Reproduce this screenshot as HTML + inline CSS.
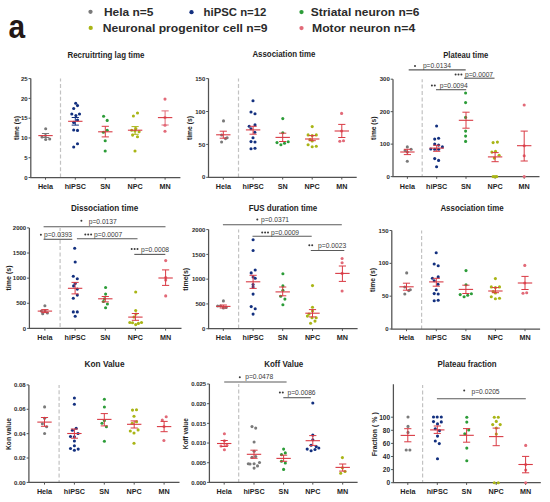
<!DOCTYPE html>
<html><head><meta charset="utf-8"><style>
html,body{margin:0;padding:0;background:#fff;}
svg{display:block;}
text{font-family:"Liberation Sans",sans-serif;}
.ti{font-size:8.2px;font-weight:bold;fill:#1e1e1e;}
.yt{font-weight:bold;fill:#2a2a2a;text-anchor:end;}
.xl{font-size:7.2px;font-weight:bold;fill:#1e1e1e;text-anchor:middle;}
.yl{font-size:6.6px;font-weight:bold;fill:#1e1e1e;text-anchor:middle;}
.pv{font-size:6.7px;fill:#3a3a3a;}
.lg{font-size:10px;font-weight:bold;fill:#2b2b2b;}
.big{font-size:33px;font-weight:bold;fill:#231815;}
.ax{fill:none;stroke:#525252;stroke-width:1.25;}
.tk{stroke:#525252;stroke-width:1;}
.da{stroke:#c2c2c2;stroke-width:1.2;stroke-dasharray:4 2.4;stroke-dashoffset:1;}
.eb{fill:none;stroke-width:1;}
.mn{stroke-width:1.1;}
.sg{stroke:#5a5a5a;stroke-width:1.1;}
</style></head><body>
<svg width="550" height="502" viewBox="0 0 550 502">
<rect width="550" height="502" fill="#fff"/>
<text x="8.4" y="37.6" class="big" textLength="16.6" lengthAdjust="spacingAndGlyphs">a</text>
<circle cx="90.5" cy="11.8" r="2.15" fill="#7a7a7a"/>
<text x="103.9" y="16.1" class="lg" textLength="49.5" lengthAdjust="spacingAndGlyphs">Hela n=5</text>
<circle cx="191.5" cy="12.2" r="2.15" fill="#13307f"/>
<text x="203.6" y="16.1" class="lg" textLength="62.8" lengthAdjust="spacingAndGlyphs">hiPSC n=12</text>
<circle cx="301.5" cy="12.1" r="2.15" fill="#2c9c38"/>
<text x="310.7" y="16.2" class="lg" textLength="108.7" lengthAdjust="spacingAndGlyphs">Striatal neuron n=6</text>
<circle cx="90.7" cy="27.9" r="2.15" fill="#a9b516"/>
<text x="102.7" y="31.8" class="lg" textLength="164.9" lengthAdjust="spacingAndGlyphs">Neuronal progenitor cell n=9</text>
<circle cx="301.5" cy="28.1" r="2.15" fill="#e26a78"/>
<text x="312" y="31.9" class="lg" textLength="103.2" lengthAdjust="spacingAndGlyphs">Motor neuron n=4</text>
<text x="67.5" y="57.9" class="ti" textLength="77" lengthAdjust="spacingAndGlyphs">Recruitrting lag time</text>
<line x1="60.5" y1="78.6" x2="60.5" y2="177.5" class="da"/>
<path d="M30.8 78.6V177.5H180.4" class="ax"/>
<line x1="28.5" y1="177.5" x2="30.8" y2="177.5" class="tk"/>
<text x="27.6" y="179.66" class="yt" style="font-size:6px">0</text>
<line x1="28.5" y1="157.72" x2="30.8" y2="157.72" class="tk"/>
<text x="27.6" y="159.88" class="yt" style="font-size:6px">5</text>
<line x1="28.5" y1="137.94" x2="30.8" y2="137.94" class="tk"/>
<text x="27.6" y="140.1" class="yt" style="font-size:6px">10</text>
<line x1="28.5" y1="118.16" x2="30.8" y2="118.16" class="tk"/>
<text x="27.6" y="120.32" class="yt" style="font-size:6px">15</text>
<line x1="28.5" y1="98.38" x2="30.8" y2="98.38" class="tk"/>
<text x="27.6" y="100.54" class="yt" style="font-size:6px">20</text>
<line x1="28.5" y1="78.6" x2="30.8" y2="78.6" class="tk"/>
<text x="27.6" y="80.76" class="yt" style="font-size:6px">25</text>
<line x1="45.5" y1="177.5" x2="45.5" y2="179.7" class="tk"/>
<text x="45.5" y="189" class="xl">Hela</text>
<line x1="75.3" y1="177.5" x2="75.3" y2="179.7" class="tk"/>
<text x="75.3" y="189" class="xl">hiPSC</text>
<line x1="105.3" y1="177.5" x2="105.3" y2="179.7" class="tk"/>
<text x="105.3" y="189" class="xl">SN</text>
<line x1="135.1" y1="177.5" x2="135.1" y2="179.7" class="tk"/>
<text x="135.1" y="189" class="xl">NPC</text>
<line x1="165.1" y1="177.5" x2="165.1" y2="179.7" class="tk"/>
<text x="165.1" y="189" class="xl">MN</text>
<text transform="translate(18.9 128) rotate(-90)" x="0" y="0" class="yl" textLength="24" lengthAdjust="spacingAndGlyphs">time (s)</text>
<circle cx="45.7" cy="128.7" r="1.55" fill="#7a7a7a"/>
<circle cx="42" cy="137" r="1.55" fill="#7a7a7a"/>
<circle cx="45.7" cy="139.5" r="1.55" fill="#7a7a7a"/>
<circle cx="49.7" cy="139" r="1.55" fill="#7a7a7a"/>
<circle cx="45.5" cy="135.5" r="1.55" fill="#7a7a7a"/>
<path d="M45.5 133.5V137.5M41.9 133.5H49.1M41.9 137.5H49.1" stroke="#7a7a7a" class="eb"/>
<line x1="38.3" y1="135.6" x2="52.7" y2="135.6" stroke="#d93a44" class="mn"/>
<circle cx="75.7" cy="103.2" r="1.55" fill="#13307f"/>
<circle cx="77.5" cy="105.6" r="1.55" fill="#13307f"/>
<circle cx="73.7" cy="108.5" r="1.55" fill="#13307f"/>
<circle cx="71.8" cy="114" r="1.55" fill="#13307f"/>
<circle cx="79.5" cy="114" r="1.55" fill="#13307f"/>
<circle cx="75.9" cy="115.6" r="1.55" fill="#13307f"/>
<circle cx="77.5" cy="120" r="1.55" fill="#13307f"/>
<circle cx="73.7" cy="122.4" r="1.55" fill="#13307f"/>
<circle cx="73.7" cy="130" r="1.55" fill="#13307f"/>
<circle cx="77.5" cy="130.4" r="1.55" fill="#13307f"/>
<circle cx="77.5" cy="143.7" r="1.55" fill="#13307f"/>
<circle cx="73.7" cy="147" r="1.55" fill="#13307f"/>
<path d="M75.3 117.5V125.1M71.7 117.5H78.9M71.7 125.1H78.9" stroke="#13307f" class="eb"/>
<line x1="68.1" y1="121.3" x2="82.5" y2="121.3" stroke="#d93a44" class="mn"/>
<circle cx="103.6" cy="116.3" r="1.55" fill="#2c9c38"/>
<circle cx="107.2" cy="120.4" r="1.55" fill="#2c9c38"/>
<circle cx="107.2" cy="130.2" r="1.55" fill="#2c9c38"/>
<circle cx="103.4" cy="132.3" r="1.55" fill="#2c9c38"/>
<circle cx="105.2" cy="140.8" r="1.55" fill="#2c9c38"/>
<circle cx="105.2" cy="151" r="1.55" fill="#2c9c38"/>
<path d="M105.3 126.3V136.9M101.7 126.3H108.9M101.7 136.9H108.9" stroke="#d93a44" class="eb"/>
<line x1="98.1" y1="131.8" x2="112.5" y2="131.8" stroke="#d93a44" class="mn"/>
<circle cx="133.4" cy="116" r="1.55" fill="#a9b516"/>
<circle cx="137.5" cy="113" r="1.55" fill="#a9b516"/>
<circle cx="131.7" cy="130.2" r="1.55" fill="#a9b516"/>
<circle cx="135.8" cy="128.6" r="1.55" fill="#a9b516"/>
<circle cx="139.1" cy="131.8" r="1.55" fill="#a9b516"/>
<circle cx="132.6" cy="135.1" r="1.55" fill="#a9b516"/>
<circle cx="137.5" cy="136.7" r="1.55" fill="#a9b516"/>
<circle cx="135" cy="151" r="1.55" fill="#a9b516"/>
<circle cx="135" cy="131" r="1.55" fill="#a9b516"/>
<path d="M135.1 126.6V134.3M131.5 126.6H138.7M131.5 134.3H138.7" stroke="#a9b516" class="eb"/>
<line x1="127.9" y1="130.2" x2="142.3" y2="130.2" stroke="#d93a44" class="mn"/>
<circle cx="165" cy="99.1" r="1.55" fill="#e26a78"/>
<circle cx="165" cy="117.6" r="1.55" fill="#e26a78"/>
<circle cx="165" cy="125.3" r="1.55" fill="#e26a78"/>
<circle cx="165" cy="131.3" r="1.55" fill="#e26a78"/>
<path d="M165.1 110.9V125M161.5 110.9H168.7M161.5 125H168.7" stroke="#e26a78" class="eb"/>
<line x1="157.9" y1="117.6" x2="172.3" y2="117.6" stroke="#d93a44" class="mn"/>
<text x="252.4" y="57" class="ti" textLength="63" lengthAdjust="spacingAndGlyphs">Association time</text>
<line x1="238.5" y1="78.6" x2="238.5" y2="177.3" class="da"/>
<path d="M208.5 78.6V177.3H356.7" class="ax"/>
<line x1="206.2" y1="177.3" x2="208.5" y2="177.3" class="tk"/>
<text x="205.3" y="179.46" class="yt" style="font-size:6px">0</text>
<line x1="206.2" y1="144.4" x2="208.5" y2="144.4" class="tk"/>
<text x="205.3" y="146.56" class="yt" style="font-size:6px">50</text>
<line x1="206.2" y1="111.5" x2="208.5" y2="111.5" class="tk"/>
<text x="205.3" y="113.66" class="yt" style="font-size:6px">100</text>
<line x1="206.2" y1="78.6" x2="208.5" y2="78.6" class="tk"/>
<text x="205.3" y="80.76" class="yt" style="font-size:6px">150</text>
<line x1="223.3" y1="177.3" x2="223.3" y2="179.5" class="tk"/>
<text x="223.3" y="189" class="xl">Hela</text>
<line x1="253.1" y1="177.3" x2="253.1" y2="179.5" class="tk"/>
<text x="253.1" y="189" class="xl">hiPSC</text>
<line x1="282.7" y1="177.3" x2="282.7" y2="179.5" class="tk"/>
<text x="282.7" y="189" class="xl">SN</text>
<line x1="312.2" y1="177.3" x2="312.2" y2="179.5" class="tk"/>
<text x="312.2" y="189" class="xl">NPC</text>
<line x1="341.8" y1="177.3" x2="341.8" y2="179.5" class="tk"/>
<text x="341.8" y="189" class="xl">MN</text>
<text transform="translate(192.3 128) rotate(-90)" x="0" y="0" class="yl" textLength="24" lengthAdjust="spacingAndGlyphs">time (s)</text>
<circle cx="223.5" cy="120.9" r="1.55" fill="#7a7a7a"/>
<circle cx="227.1" cy="137.7" r="1.55" fill="#7a7a7a"/>
<circle cx="225.5" cy="138.6" r="1.55" fill="#7a7a7a"/>
<circle cx="221.6" cy="142" r="1.55" fill="#7a7a7a"/>
<circle cx="221.6" cy="135" r="1.55" fill="#7a7a7a"/>
<path d="M223.3 131.2V138.2M219.7 131.2H226.9M219.7 138.2H226.9" stroke="#d93a44" class="eb"/>
<line x1="216.1" y1="134.8" x2="230.5" y2="134.8" stroke="#d93a44" class="mn"/>
<circle cx="253" cy="100.7" r="1.55" fill="#13307f"/>
<circle cx="251" cy="112" r="1.55" fill="#13307f"/>
<circle cx="255" cy="113.8" r="1.55" fill="#13307f"/>
<circle cx="255" cy="124.9" r="1.55" fill="#13307f"/>
<circle cx="249.2" cy="126.3" r="1.55" fill="#13307f"/>
<circle cx="251" cy="128.7" r="1.55" fill="#13307f"/>
<circle cx="254.8" cy="132.3" r="1.55" fill="#13307f"/>
<circle cx="253" cy="137.7" r="1.55" fill="#13307f"/>
<circle cx="251" cy="141.6" r="1.55" fill="#13307f"/>
<circle cx="255" cy="142" r="1.55" fill="#13307f"/>
<circle cx="251" cy="148.8" r="1.55" fill="#13307f"/>
<circle cx="255" cy="148.2" r="1.55" fill="#13307f"/>
<path d="M253.1 126.3V134.2M249.5 126.3H256.7M249.5 134.2H256.7" stroke="#d93a44" class="eb"/>
<line x1="245.9" y1="129.9" x2="260.3" y2="129.9" stroke="#d93a44" class="mn"/>
<circle cx="282.8" cy="118.6" r="1.55" fill="#2c9c38"/>
<circle cx="282.8" cy="132.7" r="1.55" fill="#2c9c38"/>
<circle cx="277" cy="142.6" r="1.55" fill="#2c9c38"/>
<circle cx="280.9" cy="144.7" r="1.55" fill="#2c9c38"/>
<circle cx="284.5" cy="143.2" r="1.55" fill="#2c9c38"/>
<circle cx="288.2" cy="141.7" r="1.55" fill="#2c9c38"/>
<path d="M282.7 133.2V141.5M279.1 133.2H286.3M279.1 141.5H286.3" stroke="#d93a44" class="eb"/>
<line x1="275.5" y1="137.4" x2="289.9" y2="137.4" stroke="#d93a44" class="mn"/>
<circle cx="312.2" cy="126.6" r="1.55" fill="#a9b516"/>
<circle cx="308.1" cy="134.9" r="1.55" fill="#a9b516"/>
<circle cx="312.2" cy="135.6" r="1.55" fill="#a9b516"/>
<circle cx="316.3" cy="134.9" r="1.55" fill="#a9b516"/>
<circle cx="310" cy="139.6" r="1.55" fill="#a9b516"/>
<circle cx="312.2" cy="141" r="1.55" fill="#a9b516"/>
<circle cx="308.1" cy="144.8" r="1.55" fill="#a9b516"/>
<circle cx="312.2" cy="146.8" r="1.55" fill="#a9b516"/>
<circle cx="316.3" cy="146.3" r="1.55" fill="#a9b516"/>
<path d="M312.2 135.6V140.7M308.6 135.6H315.8M308.6 140.7H315.8" stroke="#d93a44" class="eb"/>
<line x1="305" y1="139" x2="319.4" y2="139" stroke="#d93a44" class="mn"/>
<circle cx="341.6" cy="113.4" r="1.55" fill="#e26a78"/>
<circle cx="339.8" cy="141.2" r="1.55" fill="#e26a78"/>
<circle cx="343.5" cy="140.7" r="1.55" fill="#e26a78"/>
<circle cx="341.6" cy="131" r="1.55" fill="#e26a78"/>
<path d="M341.8 124.4V137.5M338.2 124.4H345.4M338.2 137.5H345.4" stroke="#d93a44" class="eb"/>
<line x1="334.6" y1="131" x2="349" y2="131" stroke="#d93a44" class="mn"/>
<text x="443.2" y="58" class="ti" textLength="45.1" lengthAdjust="spacingAndGlyphs">Plateau time</text>
<line x1="422.2" y1="79.2" x2="422.2" y2="176.6" class="da"/>
<path d="M393 79.2V176.6H539.5" class="ax"/>
<line x1="390.7" y1="176.6" x2="393" y2="176.6" class="tk"/>
<text x="389.8" y="178.76" class="yt" style="font-size:6px">0</text>
<line x1="390.7" y1="144.13" x2="393" y2="144.13" class="tk"/>
<text x="389.8" y="146.29" class="yt" style="font-size:6px">100</text>
<line x1="390.7" y1="111.67" x2="393" y2="111.67" class="tk"/>
<text x="389.8" y="113.83" class="yt" style="font-size:6px">200</text>
<line x1="390.7" y1="79.2" x2="393" y2="79.2" class="tk"/>
<text x="389.8" y="81.36" class="yt" style="font-size:6px">300</text>
<line x1="407.4" y1="176.6" x2="407.4" y2="178.8" class="tk"/>
<text x="407.4" y="189" class="xl">Hela</text>
<line x1="436.7" y1="176.6" x2="436.7" y2="178.8" class="tk"/>
<text x="436.7" y="189" class="xl">hiPSC</text>
<line x1="466" y1="176.6" x2="466" y2="178.8" class="tk"/>
<text x="466" y="189" class="xl">SN</text>
<line x1="495.1" y1="176.6" x2="495.1" y2="178.8" class="tk"/>
<text x="495.1" y="189" class="xl">NPC</text>
<line x1="524.2" y1="176.6" x2="524.2" y2="178.8" class="tk"/>
<text x="524.2" y="189" class="xl">MN</text>
<text transform="translate(376.4 128.3) rotate(-90)" x="0" y="0" class="yl" textLength="23.5" lengthAdjust="spacingAndGlyphs">time (s)</text>
<circle cx="407.3" cy="146.9" r="1.55" fill="#7a7a7a"/>
<circle cx="411.1" cy="149.3" r="1.55" fill="#7a7a7a"/>
<circle cx="405.2" cy="150.5" r="1.55" fill="#7a7a7a"/>
<circle cx="407.3" cy="152" r="1.55" fill="#7a7a7a"/>
<circle cx="407.3" cy="161.2" r="1.55" fill="#7a7a7a"/>
<path d="M407.4 149.3V154.6M403.8 149.3H411M403.8 154.6H411" stroke="#d93a44" class="eb"/>
<line x1="400.2" y1="152" x2="414.6" y2="152" stroke="#d93a44" class="mn"/>
<circle cx="436.6" cy="126" r="1.55" fill="#13307f"/>
<circle cx="434.7" cy="139.1" r="1.55" fill="#13307f"/>
<circle cx="438.6" cy="138.2" r="1.55" fill="#13307f"/>
<circle cx="434.7" cy="144.1" r="1.55" fill="#13307f"/>
<circle cx="438.6" cy="145.1" r="1.55" fill="#13307f"/>
<circle cx="442.4" cy="146.9" r="1.55" fill="#13307f"/>
<circle cx="430.8" cy="149" r="1.55" fill="#13307f"/>
<circle cx="434.7" cy="149.3" r="1.55" fill="#13307f"/>
<circle cx="438.6" cy="149.3" r="1.55" fill="#13307f"/>
<circle cx="434.7" cy="158.6" r="1.55" fill="#13307f"/>
<circle cx="438.6" cy="160.4" r="1.55" fill="#13307f"/>
<circle cx="436.6" cy="166.8" r="1.55" fill="#13307f"/>
<path d="M436.7 145.3V151.3M433.1 145.3H440.3M433.1 151.3H440.3" stroke="#d93a44" class="eb"/>
<line x1="429.5" y1="148.1" x2="443.9" y2="148.1" stroke="#d93a44" class="mn"/>
<circle cx="465.6" cy="93" r="1.55" fill="#2c9c38"/>
<circle cx="465.6" cy="102.6" r="1.55" fill="#2c9c38"/>
<circle cx="465.6" cy="117.4" r="1.55" fill="#2c9c38"/>
<circle cx="465.6" cy="131.1" r="1.55" fill="#2c9c38"/>
<circle cx="465.6" cy="136.1" r="1.55" fill="#2c9c38"/>
<circle cx="465.6" cy="141.4" r="1.55" fill="#2c9c38"/>
<path d="M466 112.2V128.2M462.4 112.2H469.6M462.4 128.2H469.6" stroke="#d93a44" class="eb"/>
<line x1="458.8" y1="120.3" x2="473.2" y2="120.3" stroke="#d93a44" class="mn"/>
<circle cx="493.1" cy="142.6" r="1.55" fill="#a9b516"/>
<circle cx="497.4" cy="142.1" r="1.55" fill="#a9b516"/>
<circle cx="491.9" cy="152.1" r="1.55" fill="#a9b516"/>
<circle cx="495.5" cy="151.4" r="1.55" fill="#a9b516"/>
<circle cx="499.1" cy="155.3" r="1.55" fill="#a9b516"/>
<circle cx="494.3" cy="158.1" r="1.55" fill="#a9b516"/>
<circle cx="493.1" cy="176.6" r="1.55" fill="#a9b516"/>
<circle cx="496.7" cy="176.6" r="1.55" fill="#a9b516"/>
<circle cx="495" cy="176.6" r="1.55" fill="#a9b516"/>
<path d="M495.1 152.6V161.7M491.5 152.6H498.7M491.5 161.7H498.7" stroke="#d93a44" class="eb"/>
<line x1="487.9" y1="156.9" x2="502.3" y2="156.9" stroke="#d93a44" class="mn"/>
<circle cx="524.2" cy="105" r="1.55" fill="#e26a78"/>
<circle cx="524.2" cy="155.7" r="1.55" fill="#e26a78"/>
<circle cx="524.2" cy="176.6" r="1.55" fill="#e26a78"/>
<circle cx="524.2" cy="145.7" r="1.55" fill="#e26a78"/>
<path d="M524.2 131.1V161M520.6 131.1H527.8M520.6 161H527.8" stroke="#d93a44" class="eb"/>
<line x1="517" y1="145.7" x2="531.4" y2="145.7" stroke="#d93a44" class="mn"/>
<line x1="408.7" y1="69.9" x2="465.7" y2="69.9" class="sg"/>
<circle cx="415" cy="65.9" r="1.0" fill="#3a3a3a"/>
<text x="422.9" y="68" class="pv">p=0.0134</text>
<line x1="464.1" y1="78.2" x2="494.5" y2="78.2" class="sg"/>
<circle cx="455.6" cy="74.4" r="1.0" fill="#3a3a3a"/>
<circle cx="458.5" cy="74.4" r="1.0" fill="#3a3a3a"/>
<circle cx="461.4" cy="74.4" r="1.0" fill="#3a3a3a"/>
<text x="465" y="76.5" class="pv">p=0.0007</text>
<line x1="436" y1="89.7" x2="466.2" y2="89.7" class="sg"/>
<circle cx="431.9" cy="85.5" r="1.0" fill="#3a3a3a"/>
<circle cx="434.8" cy="85.5" r="1.0" fill="#3a3a3a"/>
<text x="439.7" y="88.2" class="pv">p=0.0094</text>
<text x="70.9" y="210.5" class="ti" textLength="67.3" lengthAdjust="spacingAndGlyphs">Dissociation time</text>
<line x1="60.1" y1="227.9" x2="60.1" y2="328.4" class="da"/>
<path d="M29.4 227.9V328.4H181.5" class="ax"/>
<line x1="27.1" y1="328.4" x2="29.4" y2="328.4" class="tk"/>
<text x="26.2" y="330.56" class="yt" style="font-size:6px">0</text>
<line x1="27.1" y1="303.27" x2="29.4" y2="303.27" class="tk"/>
<text x="26.2" y="305.44" class="yt" style="font-size:6px">500</text>
<line x1="27.1" y1="278.15" x2="29.4" y2="278.15" class="tk"/>
<text x="26.2" y="280.31" class="yt" style="font-size:6px">1000</text>
<line x1="27.1" y1="253.02" x2="29.4" y2="253.02" class="tk"/>
<text x="26.2" y="255.18" class="yt" style="font-size:6px">1500</text>
<line x1="27.1" y1="227.9" x2="29.4" y2="227.9" class="tk"/>
<text x="26.2" y="230.06" class="yt" style="font-size:6px">2000</text>
<line x1="44.9" y1="328.4" x2="44.9" y2="330.6" class="tk"/>
<text x="44.9" y="339.8" class="xl">Hela</text>
<line x1="75.1" y1="328.4" x2="75.1" y2="330.6" class="tk"/>
<text x="75.1" y="339.8" class="xl">hiPSC</text>
<line x1="105.3" y1="328.4" x2="105.3" y2="330.6" class="tk"/>
<text x="105.3" y="339.8" class="xl">SN</text>
<line x1="135.4" y1="328.4" x2="135.4" y2="330.6" class="tk"/>
<text x="135.4" y="339.8" class="xl">NPC</text>
<line x1="165.6" y1="328.4" x2="165.6" y2="330.6" class="tk"/>
<text x="165.6" y="339.8" class="xl">MN</text>
<text transform="translate(10.8 278) rotate(-90)" x="0" y="0" class="yl" textLength="25" lengthAdjust="spacingAndGlyphs">time (s)</text>
<circle cx="44.9" cy="305.8" r="1.55" fill="#7a7a7a"/>
<circle cx="41.4" cy="311.1" r="1.55" fill="#7a7a7a"/>
<circle cx="42.7" cy="313.8" r="1.55" fill="#7a7a7a"/>
<circle cx="47.4" cy="313" r="1.55" fill="#7a7a7a"/>
<circle cx="45" cy="311" r="1.55" fill="#7a7a7a"/>
<path d="M44.9 309.6V312.6M41.3 309.6H48.5M41.3 312.6H48.5" stroke="#d93a44" class="eb"/>
<line x1="37.7" y1="311.1" x2="52.1" y2="311.1" stroke="#d93a44" class="mn"/>
<circle cx="74.7" cy="248.2" r="1.55" fill="#13307f"/>
<circle cx="75.2" cy="262" r="1.55" fill="#13307f"/>
<circle cx="73.3" cy="276.3" r="1.55" fill="#13307f"/>
<circle cx="77.3" cy="278.7" r="1.55" fill="#13307f"/>
<circle cx="75.2" cy="283.5" r="1.55" fill="#13307f"/>
<circle cx="73.6" cy="285.9" r="1.55" fill="#13307f"/>
<circle cx="77.3" cy="289.1" r="1.55" fill="#13307f"/>
<circle cx="77.3" cy="295.1" r="1.55" fill="#13307f"/>
<circle cx="73.3" cy="298.2" r="1.55" fill="#13307f"/>
<circle cx="73.3" cy="311.9" r="1.55" fill="#13307f"/>
<circle cx="77.3" cy="311.9" r="1.55" fill="#13307f"/>
<circle cx="75.2" cy="316.2" r="1.55" fill="#13307f"/>
<path d="M75.1 282.4V293.9M71.5 282.4H78.7M71.5 293.9H78.7" stroke="#d93a44" class="eb"/>
<line x1="67.9" y1="288.3" x2="82.3" y2="288.3" stroke="#d93a44" class="mn"/>
<circle cx="105.6" cy="287.5" r="1.55" fill="#2c9c38"/>
<circle cx="105.6" cy="294.1" r="1.55" fill="#2c9c38"/>
<circle cx="103.4" cy="301.5" r="1.55" fill="#2c9c38"/>
<circle cx="107.4" cy="304" r="1.55" fill="#2c9c38"/>
<circle cx="105.6" cy="307.8" r="1.55" fill="#2c9c38"/>
<circle cx="104.5" cy="298.8" r="1.55" fill="#2c9c38"/>
<path d="M105.3 296.5V301.9M101.7 296.5H108.9M101.7 301.9H108.9" stroke="#d93a44" class="eb"/>
<line x1="98.1" y1="298.8" x2="112.5" y2="298.8" stroke="#d93a44" class="mn"/>
<circle cx="135.7" cy="292" r="1.55" fill="#a9b516"/>
<circle cx="135.7" cy="310.5" r="1.55" fill="#a9b516"/>
<circle cx="129.8" cy="322.5" r="1.55" fill="#a9b516"/>
<circle cx="132.5" cy="322.8" r="1.55" fill="#a9b516"/>
<circle cx="135.7" cy="324.6" r="1.55" fill="#a9b516"/>
<circle cx="138.4" cy="323.4" r="1.55" fill="#a9b516"/>
<circle cx="141.5" cy="322.5" r="1.55" fill="#a9b516"/>
<circle cx="134" cy="317" r="1.55" fill="#a9b516"/>
<circle cx="136" cy="314" r="1.55" fill="#a9b516"/>
<path d="M135.4 313.5V320.3M131.8 313.5H139M131.8 320.3H139" stroke="#d93a44" class="eb"/>
<line x1="128.2" y1="317.1" x2="142.6" y2="317.1" stroke="#d93a44" class="mn"/>
<circle cx="165.7" cy="260.6" r="1.55" fill="#e26a78"/>
<circle cx="165.7" cy="277.6" r="1.55" fill="#e26a78"/>
<circle cx="165.7" cy="295.9" r="1.55" fill="#e26a78"/>
<circle cx="165.7" cy="280" r="1.55" fill="#e26a78"/>
<path d="M165.6 269.9V285.4M162 269.9H169.2M162 285.4H169.2" stroke="#d93a44" class="eb"/>
<line x1="158.4" y1="278" x2="172.8" y2="278" stroke="#d93a44" class="mn"/>
<line x1="43.6" y1="226.7" x2="165.5" y2="226.7" class="sg"/>
<circle cx="81.4" cy="220.8" r="1.0" fill="#3a3a3a"/>
<text x="88.7" y="224.1" class="pv">p=0.0137</text>
<line x1="43.6" y1="239.3" x2="72.3" y2="239.3" class="sg"/>
<circle cx="40.9" cy="234.8" r="1.0" fill="#3a3a3a"/>
<text x="44" y="237.4" class="pv">p=0.0393</text>
<line x1="76.9" y1="238.8" x2="137.5" y2="238.8" class="sg"/>
<circle cx="85.3" cy="234.6" r="1.0" fill="#3a3a3a"/>
<circle cx="88.2" cy="234.6" r="1.0" fill="#3a3a3a"/>
<circle cx="91.1" cy="234.6" r="1.0" fill="#3a3a3a"/>
<text x="94.1" y="237.1" class="pv">p=0.0007</text>
<line x1="134.3" y1="254.4" x2="165.3" y2="254.4" class="sg"/>
<circle cx="131.7" cy="248.9" r="1.0" fill="#3a3a3a"/>
<circle cx="134.6" cy="248.9" r="1.0" fill="#3a3a3a"/>
<circle cx="137.5" cy="248.9" r="1.0" fill="#3a3a3a"/>
<text x="141" y="252.3" class="pv">p=0.0008</text>
<text x="248.7" y="211" class="ti" textLength="68.6" lengthAdjust="spacingAndGlyphs">FUS duration time</text>
<line x1="238.6" y1="229.6" x2="238.6" y2="328.7" class="da"/>
<path d="M208.6 229.6V328.7H357.6" class="ax"/>
<line x1="206.3" y1="328.7" x2="208.6" y2="328.7" class="tk"/>
<text x="205.4" y="330.86" class="yt" style="font-size:6px">0</text>
<line x1="206.3" y1="303.93" x2="208.6" y2="303.93" class="tk"/>
<text x="205.4" y="306.09" class="yt" style="font-size:6px">500</text>
<line x1="206.3" y1="279.15" x2="208.6" y2="279.15" class="tk"/>
<text x="205.4" y="281.31" class="yt" style="font-size:6px">1000</text>
<line x1="206.3" y1="254.38" x2="208.6" y2="254.38" class="tk"/>
<text x="205.4" y="256.54" class="yt" style="font-size:6px">1500</text>
<line x1="206.3" y1="229.6" x2="208.6" y2="229.6" class="tk"/>
<text x="205.4" y="231.76" class="yt" style="font-size:6px">2000</text>
<line x1="223.3" y1="328.7" x2="223.3" y2="330.9" class="tk"/>
<text x="223.3" y="339.8" class="xl">Hela</text>
<line x1="253.1" y1="328.7" x2="253.1" y2="330.9" class="tk"/>
<text x="253.1" y="339.8" class="xl">hiPSC</text>
<line x1="282.7" y1="328.7" x2="282.7" y2="330.9" class="tk"/>
<text x="282.7" y="339.8" class="xl">SN</text>
<line x1="312.5" y1="328.7" x2="312.5" y2="330.9" class="tk"/>
<text x="312.5" y="339.8" class="xl">NPC</text>
<line x1="342.4" y1="328.7" x2="342.4" y2="330.9" class="tk"/>
<text x="342.4" y="339.8" class="xl">MN</text>
<text transform="translate(188 279.3) rotate(-90)" x="0" y="0" class="yl" textLength="22.8" lengthAdjust="spacingAndGlyphs">time(s)</text>
<circle cx="223.4" cy="300.9" r="1.55" fill="#7a7a7a"/>
<circle cx="220.5" cy="306" r="1.55" fill="#7a7a7a"/>
<circle cx="223.4" cy="307.9" r="1.55" fill="#7a7a7a"/>
<circle cx="226.2" cy="307.5" r="1.55" fill="#7a7a7a"/>
<circle cx="217.7" cy="306" r="1.55" fill="#7a7a7a"/>
<path d="M223.3 305V308M219.7 305H226.9M219.7 308H226.9" stroke="#d93a44" class="eb"/>
<line x1="216.1" y1="306.4" x2="230.5" y2="306.4" stroke="#d93a44" class="mn"/>
<circle cx="253.1" cy="239.7" r="1.55" fill="#13307f"/>
<circle cx="253.1" cy="250.5" r="1.55" fill="#13307f"/>
<circle cx="255.2" cy="270" r="1.55" fill="#13307f"/>
<circle cx="251.2" cy="272.9" r="1.55" fill="#13307f"/>
<circle cx="253.1" cy="277" r="1.55" fill="#13307f"/>
<circle cx="255.2" cy="278.2" r="1.55" fill="#13307f"/>
<circle cx="253.1" cy="284.6" r="1.55" fill="#13307f"/>
<circle cx="253.1" cy="287" r="1.55" fill="#13307f"/>
<circle cx="253.1" cy="294.1" r="1.55" fill="#13307f"/>
<circle cx="251.2" cy="306.6" r="1.55" fill="#13307f"/>
<circle cx="255.2" cy="308.8" r="1.55" fill="#13307f"/>
<circle cx="253.1" cy="314.1" r="1.55" fill="#13307f"/>
<path d="M253.1 275.3V288.4M249.5 275.3H256.7M249.5 288.4H256.7" stroke="#d93a44" class="eb"/>
<line x1="245.9" y1="281.8" x2="260.3" y2="281.8" stroke="#d93a44" class="mn"/>
<circle cx="282.9" cy="273.8" r="1.55" fill="#2c9c38"/>
<circle cx="282.9" cy="285.9" r="1.55" fill="#2c9c38"/>
<circle cx="282.9" cy="290.3" r="1.55" fill="#2c9c38"/>
<circle cx="280.7" cy="296.3" r="1.55" fill="#2c9c38"/>
<circle cx="284.9" cy="299.1" r="1.55" fill="#2c9c38"/>
<circle cx="282.9" cy="304.7" r="1.55" fill="#2c9c38"/>
<path d="M282.7 287V295.8M279.1 287H286.3M279.1 295.8H286.3" stroke="#d93a44" class="eb"/>
<line x1="275.5" y1="291.9" x2="289.9" y2="291.9" stroke="#d93a44" class="mn"/>
<circle cx="312.5" cy="285.6" r="1.55" fill="#a9b516"/>
<circle cx="312.5" cy="307.3" r="1.55" fill="#a9b516"/>
<circle cx="307.4" cy="316.1" r="1.55" fill="#a9b516"/>
<circle cx="312" cy="317.7" r="1.55" fill="#a9b516"/>
<circle cx="316.2" cy="317.7" r="1.55" fill="#a9b516"/>
<circle cx="315" cy="321.1" r="1.55" fill="#a9b516"/>
<circle cx="310.6" cy="323.2" r="1.55" fill="#a9b516"/>
<circle cx="309" cy="314" r="1.55" fill="#a9b516"/>
<circle cx="312.5" cy="311" r="1.55" fill="#a9b516"/>
<path d="M312.5 309.6V316.9M308.9 309.6H316.1M308.9 316.9H316.1" stroke="#d93a44" class="eb"/>
<line x1="305.3" y1="313.2" x2="319.7" y2="313.2" stroke="#d93a44" class="mn"/>
<circle cx="342.1" cy="258.5" r="1.55" fill="#e26a78"/>
<circle cx="342.1" cy="262.8" r="1.55" fill="#e26a78"/>
<circle cx="342.1" cy="273.4" r="1.55" fill="#e26a78"/>
<circle cx="342.1" cy="291" r="1.55" fill="#e26a78"/>
<path d="M342.4 266V281.4M338.8 266H346M338.8 281.4H346" stroke="#d93a44" class="eb"/>
<line x1="335.2" y1="273.4" x2="349.6" y2="273.4" stroke="#d93a44" class="mn"/>
<line x1="222.9" y1="224.7" x2="341.8" y2="224.7" class="sg"/>
<circle cx="257.3" cy="219.5" r="1.0" fill="#3a3a3a"/>
<text x="261" y="222.4" class="pv">p=0.0371</text>
<line x1="252.5" y1="236.3" x2="311.7" y2="236.3" class="sg"/>
<circle cx="262.2" cy="232.5" r="1.0" fill="#3a3a3a"/>
<circle cx="265.1" cy="232.5" r="1.0" fill="#3a3a3a"/>
<circle cx="268" cy="232.5" r="1.0" fill="#3a3a3a"/>
<text x="271" y="234.7" class="pv">p=0.0009</text>
<line x1="310.8" y1="250.5" x2="344.3" y2="250.5" class="sg"/>
<circle cx="309.3" cy="245.2" r="1.0" fill="#3a3a3a"/>
<circle cx="312.2" cy="245.2" r="1.0" fill="#3a3a3a"/>
<text x="318.1" y="248.2" class="pv">p=0.0023</text>
<text x="440.4" y="211" class="ti" textLength="63.2" lengthAdjust="spacingAndGlyphs">Association time</text>
<line x1="421.6" y1="230.5" x2="421.6" y2="329" class="da"/>
<path d="M391.8 230.5V329H540.1" class="ax"/>
<line x1="389.5" y1="329" x2="391.8" y2="329" class="tk"/>
<text x="388.6" y="331.16" class="yt" style="font-size:6px">0</text>
<line x1="389.5" y1="296.17" x2="391.8" y2="296.17" class="tk"/>
<text x="388.6" y="298.33" class="yt" style="font-size:6px">50</text>
<line x1="389.5" y1="263.33" x2="391.8" y2="263.33" class="tk"/>
<text x="388.6" y="265.49" class="yt" style="font-size:6px">100</text>
<line x1="389.5" y1="230.5" x2="391.8" y2="230.5" class="tk"/>
<text x="388.6" y="232.66" class="yt" style="font-size:6px">150</text>
<line x1="406.5" y1="329" x2="406.5" y2="331.2" class="tk"/>
<text x="406.5" y="339.8" class="xl">Hela</text>
<line x1="436.3" y1="329" x2="436.3" y2="331.2" class="tk"/>
<text x="436.3" y="339.8" class="xl">hiPSC</text>
<line x1="465.9" y1="329" x2="465.9" y2="331.2" class="tk"/>
<text x="465.9" y="339.8" class="xl">SN</text>
<line x1="495.4" y1="329" x2="495.4" y2="331.2" class="tk"/>
<text x="495.4" y="339.8" class="xl">NPC</text>
<line x1="525" y1="329" x2="525" y2="331.2" class="tk"/>
<text x="525" y="339.8" class="xl">MN</text>
<text transform="translate(374.6 279.9) rotate(-90)" x="0" y="0" class="yl" textLength="24" lengthAdjust="spacingAndGlyphs">time (s)</text>
<circle cx="406.7" cy="272.9" r="1.55" fill="#7a7a7a"/>
<circle cx="410.3" cy="289.7" r="1.55" fill="#7a7a7a"/>
<circle cx="408.7" cy="290.6" r="1.55" fill="#7a7a7a"/>
<circle cx="404.8" cy="294" r="1.55" fill="#7a7a7a"/>
<circle cx="404.8" cy="287" r="1.55" fill="#7a7a7a"/>
<path d="M406.5 283.2V290.2M402.9 283.2H410.1M402.9 290.2H410.1" stroke="#d93a44" class="eb"/>
<line x1="399.3" y1="286.8" x2="413.7" y2="286.8" stroke="#d93a44" class="mn"/>
<circle cx="436.2" cy="252.7" r="1.55" fill="#13307f"/>
<circle cx="434.2" cy="264" r="1.55" fill="#13307f"/>
<circle cx="438.2" cy="265.8" r="1.55" fill="#13307f"/>
<circle cx="438.2" cy="276.9" r="1.55" fill="#13307f"/>
<circle cx="432.4" cy="278.3" r="1.55" fill="#13307f"/>
<circle cx="434.2" cy="280.7" r="1.55" fill="#13307f"/>
<circle cx="438" cy="284.3" r="1.55" fill="#13307f"/>
<circle cx="436.2" cy="289.7" r="1.55" fill="#13307f"/>
<circle cx="434.2" cy="293.6" r="1.55" fill="#13307f"/>
<circle cx="438.2" cy="294" r="1.55" fill="#13307f"/>
<circle cx="434.2" cy="300.8" r="1.55" fill="#13307f"/>
<circle cx="438.2" cy="300.2" r="1.55" fill="#13307f"/>
<path d="M436.3 278.3V286.2M432.7 278.3H439.9M432.7 286.2H439.9" stroke="#d93a44" class="eb"/>
<line x1="429.1" y1="281.9" x2="443.5" y2="281.9" stroke="#d93a44" class="mn"/>
<circle cx="466" cy="270.6" r="1.55" fill="#2c9c38"/>
<circle cx="466" cy="284.7" r="1.55" fill="#2c9c38"/>
<circle cx="460.2" cy="294.6" r="1.55" fill="#2c9c38"/>
<circle cx="464.1" cy="296.7" r="1.55" fill="#2c9c38"/>
<circle cx="467.7" cy="295.2" r="1.55" fill="#2c9c38"/>
<circle cx="471.4" cy="293.7" r="1.55" fill="#2c9c38"/>
<path d="M465.9 285.2V293.5M462.3 285.2H469.5M462.3 293.5H469.5" stroke="#d93a44" class="eb"/>
<line x1="458.7" y1="289.4" x2="473.1" y2="289.4" stroke="#d93a44" class="mn"/>
<circle cx="495.4" cy="278.6" r="1.55" fill="#a9b516"/>
<circle cx="491.3" cy="286.9" r="1.55" fill="#a9b516"/>
<circle cx="495.4" cy="287.6" r="1.55" fill="#a9b516"/>
<circle cx="499.5" cy="286.9" r="1.55" fill="#a9b516"/>
<circle cx="493.2" cy="291.6" r="1.55" fill="#a9b516"/>
<circle cx="495.4" cy="293" r="1.55" fill="#a9b516"/>
<circle cx="491.3" cy="296.8" r="1.55" fill="#a9b516"/>
<circle cx="495.4" cy="298.8" r="1.55" fill="#a9b516"/>
<circle cx="499.5" cy="298.3" r="1.55" fill="#a9b516"/>
<path d="M495.4 287.6V292.7M491.8 287.6H499M491.8 292.7H499" stroke="#d93a44" class="eb"/>
<line x1="488.2" y1="291" x2="502.6" y2="291" stroke="#d93a44" class="mn"/>
<circle cx="524.8" cy="265.4" r="1.55" fill="#e26a78"/>
<circle cx="523" cy="293.2" r="1.55" fill="#e26a78"/>
<circle cx="526.7" cy="292.7" r="1.55" fill="#e26a78"/>
<circle cx="524.8" cy="283" r="1.55" fill="#e26a78"/>
<path d="M525 276.4V289.5M521.4 276.4H528.6M521.4 289.5H528.6" stroke="#d93a44" class="eb"/>
<line x1="517.8" y1="283" x2="532.2" y2="283" stroke="#d93a44" class="mn"/>
<text x="84.5" y="366.8" class="ti" textLength="40" lengthAdjust="spacingAndGlyphs">Kon Value</text>
<line x1="59.1" y1="384.9" x2="59.1" y2="482.4" class="da"/>
<path d="M28.9 384.9V482.4H179.5" class="ax"/>
<line x1="26.6" y1="482.4" x2="28.9" y2="482.4" class="tk"/>
<text x="25.7" y="484.56" class="yt" style="font-size:6px">0.00</text>
<line x1="26.6" y1="458.02" x2="28.9" y2="458.02" class="tk"/>
<text x="25.7" y="460.19" class="yt" style="font-size:6px">0.02</text>
<line x1="26.6" y1="433.65" x2="28.9" y2="433.65" class="tk"/>
<text x="25.7" y="435.81" class="yt" style="font-size:6px">0.04</text>
<line x1="26.6" y1="409.27" x2="28.9" y2="409.27" class="tk"/>
<text x="25.7" y="411.44" class="yt" style="font-size:6px">0.06</text>
<line x1="26.6" y1="384.9" x2="28.9" y2="384.9" class="tk"/>
<text x="25.7" y="387.06" class="yt" style="font-size:6px">0.08</text>
<line x1="44.5" y1="482.4" x2="44.5" y2="484.6" class="tk"/>
<text x="44.5" y="494" class="xl">Hela</text>
<line x1="74.4" y1="482.4" x2="74.4" y2="484.6" class="tk"/>
<text x="74.4" y="494" class="xl">hiPSC</text>
<line x1="104.3" y1="482.4" x2="104.3" y2="484.6" class="tk"/>
<text x="104.3" y="494" class="xl">SN</text>
<line x1="134.2" y1="482.4" x2="134.2" y2="484.6" class="tk"/>
<text x="134.2" y="494" class="xl">NPC</text>
<line x1="164.1" y1="482.4" x2="164.1" y2="484.6" class="tk"/>
<text x="164.1" y="494" class="xl">MN</text>
<text transform="translate(10.8 434) rotate(-90)" x="0" y="0" class="yl" textLength="32" lengthAdjust="spacingAndGlyphs">Kon value</text>
<circle cx="44.6" cy="406.9" r="1.55" fill="#7a7a7a"/>
<circle cx="44.6" cy="418.3" r="1.55" fill="#7a7a7a"/>
<circle cx="42.4" cy="423.7" r="1.55" fill="#7a7a7a"/>
<circle cx="46.6" cy="426.7" r="1.55" fill="#7a7a7a"/>
<circle cx="44.6" cy="433.5" r="1.55" fill="#7a7a7a"/>
<path d="M44.5 417.5V426.3M40.9 417.5H48.1M40.9 426.3H48.1" stroke="#d93a44" class="eb"/>
<line x1="37.3" y1="422.1" x2="51.7" y2="422.1" stroke="#d93a44" class="mn"/>
<circle cx="74.4" cy="398" r="1.55" fill="#13307f"/>
<circle cx="74.4" cy="404.3" r="1.55" fill="#13307f"/>
<circle cx="76.2" cy="428.2" r="1.55" fill="#13307f"/>
<circle cx="72.4" cy="430.2" r="1.55" fill="#13307f"/>
<circle cx="78" cy="433.5" r="1.55" fill="#13307f"/>
<circle cx="70.5" cy="436.5" r="1.55" fill="#13307f"/>
<circle cx="74.4" cy="436.8" r="1.55" fill="#13307f"/>
<circle cx="74.4" cy="441" r="1.55" fill="#13307f"/>
<circle cx="74.4" cy="445.8" r="1.55" fill="#13307f"/>
<circle cx="70.5" cy="448.5" r="1.55" fill="#13307f"/>
<circle cx="74.4" cy="450.3" r="1.55" fill="#13307f"/>
<circle cx="78.2" cy="449.1" r="1.55" fill="#13307f"/>
<path d="M74.4 429V438.2M70.8 429H78M70.8 438.2H78" stroke="#d93a44" class="eb"/>
<line x1="67.2" y1="433.5" x2="81.6" y2="433.5" stroke="#d93a44" class="mn"/>
<circle cx="104.4" cy="399.3" r="1.55" fill="#2c9c38"/>
<circle cx="104.4" cy="407" r="1.55" fill="#2c9c38"/>
<circle cx="104.4" cy="420.6" r="1.55" fill="#2c9c38"/>
<circle cx="102" cy="423.2" r="1.55" fill="#2c9c38"/>
<circle cx="106.4" cy="426.8" r="1.55" fill="#2c9c38"/>
<circle cx="104.4" cy="441.3" r="1.55" fill="#2c9c38"/>
<path d="M104.3 413.6V425.9M100.7 413.6H107.9M100.7 425.9H107.9" stroke="#d93a44" class="eb"/>
<line x1="97.1" y1="419.4" x2="111.5" y2="419.4" stroke="#d93a44" class="mn"/>
<circle cx="132.5" cy="410.1" r="1.55" fill="#a9b516"/>
<circle cx="136.5" cy="409.8" r="1.55" fill="#a9b516"/>
<circle cx="134" cy="416.3" r="1.55" fill="#a9b516"/>
<circle cx="132.2" cy="423.2" r="1.55" fill="#a9b516"/>
<circle cx="136.5" cy="421.7" r="1.55" fill="#a9b516"/>
<circle cx="130.3" cy="431" r="1.55" fill="#a9b516"/>
<circle cx="134" cy="433" r="1.55" fill="#a9b516"/>
<circle cx="138.1" cy="429.9" r="1.55" fill="#a9b516"/>
<circle cx="134" cy="443.3" r="1.55" fill="#a9b516"/>
<path d="M134.2 420.9V428M130.6 420.9H137.8M130.6 428H137.8" stroke="#d93a44" class="eb"/>
<line x1="127" y1="424.3" x2="141.4" y2="424.3" stroke="#d93a44" class="mn"/>
<circle cx="166.2" cy="416.7" r="1.55" fill="#e26a78"/>
<circle cx="162.3" cy="420.1" r="1.55" fill="#e26a78"/>
<circle cx="164" cy="426.6" r="1.55" fill="#e26a78"/>
<circle cx="163.9" cy="440.5" r="1.55" fill="#e26a78"/>
<path d="M164.1 421.4V431.7M160.5 421.4H167.7M160.5 431.7H167.7" stroke="#d93a44" class="eb"/>
<line x1="156.9" y1="426.6" x2="171.3" y2="426.6" stroke="#d93a44" class="mn"/>
<text x="264.2" y="367.4" class="ti" textLength="39.1" lengthAdjust="spacingAndGlyphs">Koff Value</text>
<line x1="238.7" y1="384" x2="238.7" y2="482.4" class="da"/>
<path d="M209.4 384V482.4H357.6" class="ax"/>
<line x1="207.1" y1="482.4" x2="209.4" y2="482.4" class="tk"/>
<text x="206.2" y="484.56" class="yt" style="font-size:6px">0.000</text>
<line x1="207.1" y1="462.72" x2="209.4" y2="462.72" class="tk"/>
<text x="206.2" y="464.88" class="yt" style="font-size:6px">0.005</text>
<line x1="207.1" y1="443.04" x2="209.4" y2="443.04" class="tk"/>
<text x="206.2" y="445.2" class="yt" style="font-size:6px">0.010</text>
<line x1="207.1" y1="423.36" x2="209.4" y2="423.36" class="tk"/>
<text x="206.2" y="425.52" class="yt" style="font-size:6px">0.015</text>
<line x1="207.1" y1="403.68" x2="209.4" y2="403.68" class="tk"/>
<text x="206.2" y="405.84" class="yt" style="font-size:6px">0.020</text>
<line x1="207.1" y1="384" x2="209.4" y2="384" class="tk"/>
<text x="206.2" y="386.16" class="yt" style="font-size:6px">0.025</text>
<line x1="224.2" y1="482.4" x2="224.2" y2="484.6" class="tk"/>
<text x="224.2" y="494" class="xl">Hela</text>
<line x1="254" y1="482.4" x2="254" y2="484.6" class="tk"/>
<text x="254" y="494" class="xl">hiPSC</text>
<line x1="283.6" y1="482.4" x2="283.6" y2="484.6" class="tk"/>
<text x="283.6" y="494" class="xl">SN</text>
<line x1="312.8" y1="482.4" x2="312.8" y2="484.6" class="tk"/>
<text x="312.8" y="494" class="xl">NPC</text>
<line x1="342.7" y1="482.4" x2="342.7" y2="484.6" class="tk"/>
<text x="342.7" y="494" class="xl">MN</text>
<text transform="translate(188.2 433.7) rotate(-90)" x="0" y="0" class="yl" textLength="31" lengthAdjust="spacingAndGlyphs">Koff value</text>
<circle cx="224.4" cy="433.7" r="1.55" fill="#e26a78"/>
<circle cx="224.4" cy="440.8" r="1.55" fill="#e26a78"/>
<circle cx="221" cy="446" r="1.55" fill="#e26a78"/>
<circle cx="226.9" cy="445.3" r="1.55" fill="#e26a78"/>
<circle cx="224.4" cy="449.8" r="1.55" fill="#e26a78"/>
<path d="M224.2 440.5V446.5M220.6 440.5H227.8M220.6 446.5H227.8" stroke="#d93a44" class="eb"/>
<line x1="217" y1="443.5" x2="231.4" y2="443.5" stroke="#d93a44" class="mn"/>
<circle cx="252" cy="426.6" r="1.55" fill="#7a7a7a"/>
<circle cx="255.7" cy="428.1" r="1.55" fill="#7a7a7a"/>
<circle cx="254.1" cy="442" r="1.55" fill="#7a7a7a"/>
<circle cx="254.1" cy="451.3" r="1.55" fill="#7a7a7a"/>
<circle cx="252" cy="457.2" r="1.55" fill="#7a7a7a"/>
<circle cx="255.7" cy="456.5" r="1.55" fill="#7a7a7a"/>
<circle cx="248.3" cy="463.7" r="1.55" fill="#7a7a7a"/>
<circle cx="250" cy="464" r="1.55" fill="#7a7a7a"/>
<circle cx="254.1" cy="463.7" r="1.55" fill="#7a7a7a"/>
<circle cx="259.5" cy="462.5" r="1.55" fill="#7a7a7a"/>
<circle cx="257.5" cy="465.9" r="1.55" fill="#7a7a7a"/>
<circle cx="254.1" cy="468.1" r="1.55" fill="#7a7a7a"/>
<path d="M254 450.2V458.3M250.4 450.2H257.6M250.4 458.3H257.6" stroke="#d93a44" class="eb"/>
<line x1="246.8" y1="454.3" x2="261.2" y2="454.3" stroke="#d93a44" class="mn"/>
<circle cx="283.6" cy="449.1" r="1.55" fill="#2c9c38"/>
<circle cx="281.5" cy="454.6" r="1.55" fill="#2c9c38"/>
<circle cx="285.3" cy="452.9" r="1.55" fill="#2c9c38"/>
<circle cx="281.5" cy="461.3" r="1.55" fill="#2c9c38"/>
<circle cx="285.3" cy="463" r="1.55" fill="#2c9c38"/>
<circle cx="283.6" cy="469.4" r="1.55" fill="#2c9c38"/>
<path d="M283.6 455.2V461.3M280 455.2H287.2M280 461.3H287.2" stroke="#d93a44" class="eb"/>
<line x1="276.4" y1="458.4" x2="290.8" y2="458.4" stroke="#d93a44" class="mn"/>
<circle cx="312.8" cy="403" r="1.55" fill="#13307f"/>
<circle cx="312.8" cy="435.1" r="1.55" fill="#13307f"/>
<circle cx="312.8" cy="439.8" r="1.55" fill="#13307f"/>
<circle cx="311.1" cy="445.2" r="1.55" fill="#13307f"/>
<circle cx="316.2" cy="446.6" r="1.55" fill="#13307f"/>
<circle cx="318.8" cy="448" r="1.55" fill="#13307f"/>
<circle cx="307.2" cy="449.1" r="1.55" fill="#13307f"/>
<circle cx="311.1" cy="450.8" r="1.55" fill="#13307f"/>
<circle cx="315" cy="449.5" r="1.55" fill="#13307f"/>
<path d="M312.8 435.6V445.4M309.2 435.6H316.4M309.2 445.4H316.4" stroke="#d93a44" class="eb"/>
<line x1="305.6" y1="440.7" x2="320" y2="440.7" stroke="#d93a44" class="mn"/>
<circle cx="342.4" cy="457.6" r="1.55" fill="#a9b516"/>
<circle cx="342.4" cy="467.7" r="1.55" fill="#a9b516"/>
<circle cx="340.7" cy="473.2" r="1.55" fill="#a9b516"/>
<circle cx="345" cy="471.5" r="1.55" fill="#a9b516"/>
<path d="M342.7 464V471.1M339.1 464H346.3M339.1 471.1H346.3" stroke="#d93a44" class="eb"/>
<line x1="335.5" y1="467.4" x2="349.9" y2="467.4" stroke="#d93a44" class="mn"/>
<line x1="224.2" y1="382" x2="286.6" y2="382" class="sg"/>
<circle cx="239.8" cy="377.3" r="1.0" fill="#3a3a3a"/>
<text x="245.2" y="379.2" class="pv">p=0.0478</text>
<line x1="283.3" y1="397.7" x2="310.8" y2="397.7" class="sg"/>
<circle cx="279.9" cy="392.5" r="1.0" fill="#3a3a3a"/>
<circle cx="282.8" cy="392.5" r="1.0" fill="#3a3a3a"/>
<text x="287.5" y="394.5" class="pv">p=0.0086</text>
<text x="437.6" y="367.4" class="ti" textLength="59.1" lengthAdjust="spacingAndGlyphs">Plateau fraction</text>
<line x1="422.6" y1="385" x2="422.6" y2="482.7" class="da"/>
<path d="M393.4 384.3V482.7H540.8" class="ax"/>
<line x1="391.1" y1="482.7" x2="393.4" y2="482.7" class="tk"/>
<text x="390.2" y="485.08" class="yt" style="font-size:6.6px">0</text>
<line x1="391.1" y1="469.6" x2="393.4" y2="469.6" class="tk"/>
<text x="390.2" y="471.98" class="yt" style="font-size:6.6px">20</text>
<line x1="391.1" y1="456.5" x2="393.4" y2="456.5" class="tk"/>
<text x="390.2" y="458.88" class="yt" style="font-size:6.6px">40</text>
<line x1="391.1" y1="443.4" x2="393.4" y2="443.4" class="tk"/>
<text x="390.2" y="445.78" class="yt" style="font-size:6.6px">60</text>
<line x1="391.1" y1="430.3" x2="393.4" y2="430.3" class="tk"/>
<text x="390.2" y="432.68" class="yt" style="font-size:6.6px">80</text>
<line x1="391.1" y1="417.2" x2="393.4" y2="417.2" class="tk"/>
<text x="390.2" y="419.58" class="yt" style="font-size:6.6px">100</text>
<line x1="407.8" y1="482.7" x2="407.8" y2="484.9" class="tk"/>
<text x="407.8" y="494" class="xl">Hela</text>
<line x1="437.3" y1="482.7" x2="437.3" y2="484.9" class="tk"/>
<text x="437.3" y="494" class="xl">hiPSC</text>
<line x1="466.6" y1="482.7" x2="466.6" y2="484.9" class="tk"/>
<text x="466.6" y="494" class="xl">SN</text>
<line x1="496.2" y1="482.7" x2="496.2" y2="484.9" class="tk"/>
<text x="496.2" y="494" class="xl">NPC</text>
<line x1="525.6" y1="482.7" x2="525.6" y2="484.9" class="tk"/>
<text x="525.6" y="494" class="xl">MN</text>
<text transform="translate(377.3 434.3) rotate(-90)" x="0" y="0" class="yl" textLength="44" lengthAdjust="spacingAndGlyphs">Fraction ( % )</text>
<circle cx="408" cy="417" r="1.55" fill="#7a7a7a"/>
<circle cx="408" cy="426.4" r="1.55" fill="#7a7a7a"/>
<circle cx="408" cy="432.4" r="1.55" fill="#7a7a7a"/>
<circle cx="406.2" cy="450" r="1.55" fill="#7a7a7a"/>
<circle cx="409.9" cy="450" r="1.55" fill="#7a7a7a"/>
<path d="M407.8 428.7V441.8M404.2 428.7H411.4M404.2 441.8H411.4" stroke="#d93a44" class="eb"/>
<line x1="400.6" y1="435.4" x2="415" y2="435.4" stroke="#d93a44" class="mn"/>
<circle cx="433.5" cy="417" r="1.55" fill="#13307f"/>
<circle cx="437.2" cy="417" r="1.55" fill="#13307f"/>
<circle cx="441.3" cy="417" r="1.55" fill="#13307f"/>
<circle cx="433.5" cy="421.6" r="1.55" fill="#13307f"/>
<circle cx="441.3" cy="421.9" r="1.55" fill="#13307f"/>
<circle cx="437.5" cy="423.9" r="1.55" fill="#13307f"/>
<circle cx="435.3" cy="428.7" r="1.55" fill="#13307f"/>
<circle cx="439.5" cy="430.6" r="1.55" fill="#13307f"/>
<circle cx="437.5" cy="436.1" r="1.55" fill="#13307f"/>
<circle cx="435.3" cy="441" r="1.55" fill="#13307f"/>
<circle cx="439.3" cy="443.6" r="1.55" fill="#13307f"/>
<circle cx="437.5" cy="458.8" r="1.55" fill="#13307f"/>
<path d="M437.3 426V433.4M433.7 426H440.9M433.7 433.4H440.9" stroke="#d93a44" class="eb"/>
<line x1="430.1" y1="429.9" x2="444.5" y2="429.9" stroke="#d93a44" class="mn"/>
<circle cx="466.8" cy="417.3" r="1.55" fill="#2c9c38"/>
<circle cx="466.8" cy="422.1" r="1.55" fill="#2c9c38"/>
<circle cx="468.7" cy="430" r="1.55" fill="#2c9c38"/>
<circle cx="464.8" cy="433.7" r="1.55" fill="#2c9c38"/>
<circle cx="466.8" cy="448.1" r="1.55" fill="#2c9c38"/>
<circle cx="466.8" cy="460.8" r="1.55" fill="#2c9c38"/>
<path d="M466.6 428.6V442.2M463 428.6H470.2M463 442.2H470.2" stroke="#d93a44" class="eb"/>
<line x1="459.4" y1="435.3" x2="473.8" y2="435.3" stroke="#d93a44" class="mn"/>
<circle cx="494.3" cy="417.3" r="1.55" fill="#a9b516"/>
<circle cx="498.3" cy="417.3" r="1.55" fill="#a9b516"/>
<circle cx="496.3" cy="421.4" r="1.55" fill="#a9b516"/>
<circle cx="492.7" cy="424.6" r="1.55" fill="#a9b516"/>
<circle cx="500.2" cy="424.6" r="1.55" fill="#a9b516"/>
<circle cx="496.3" cy="434" r="1.55" fill="#a9b516"/>
<circle cx="494.3" cy="482.7" r="1.55" fill="#a9b516"/>
<circle cx="498.3" cy="482.7" r="1.55" fill="#a9b516"/>
<circle cx="496.3" cy="428" r="1.55" fill="#a9b516"/>
<path d="M496.2 428.1V445.7M492.6 428.1H499.8M492.6 445.7H499.8" stroke="#d93a44" class="eb"/>
<line x1="489" y1="436.6" x2="503.4" y2="436.6" stroke="#d93a44" class="mn"/>
<circle cx="525.7" cy="445.4" r="1.55" fill="#e26a78"/>
<circle cx="525.7" cy="482.7" r="1.55" fill="#e26a78"/>
<circle cx="525.7" cy="464.5" r="1.55" fill="#e26a78"/>
<circle cx="525.7" cy="470" r="1.55" fill="#e26a78"/>
<path d="M525.6 456.4V472.8M522 456.4H529.2M522 472.8H529.2" stroke="#d93a44" class="eb"/>
<line x1="518.4" y1="464.5" x2="532.8" y2="464.5" stroke="#d93a44" class="mn"/>
<line x1="436.9" y1="398.7" x2="525.8" y2="398.7" class="sg"/>
<circle cx="464.2" cy="390.5" r="1.0" fill="#3a3a3a"/>
<text x="471.5" y="394.2" class="pv">p=0.0205</text>
</svg>
</body></html>
